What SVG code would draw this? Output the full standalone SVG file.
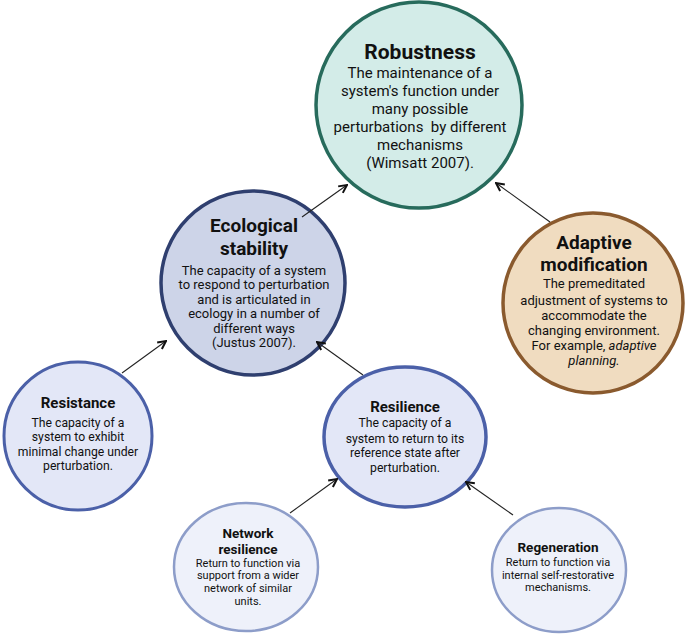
<svg xmlns="http://www.w3.org/2000/svg" width="685" height="634" viewBox="0 0 685 634">
<style>
text{font-family:Roboto,"Liberation Sans",Arial,sans-serif;text-anchor:middle;fill:#111}
.t1{font-size:21px;font-weight:bold}
.t2{font-size:19px;font-weight:bold}
.t3{font-size:15px;font-weight:bold}
.t4{font-size:13.5px;font-weight:bold}
.b1{font-size:15px}
.b2{font-size:13px}
.b2a{font-size:13px}
.b3{font-size:12.2px}
.b4{font-size:11px}
.con{stroke:#222;stroke-width:1.1;fill:none;marker-end:url(#ah)}
</style>
<defs>
<marker id="ah" viewBox="0 0 10 10" refX="9" refY="5" markerWidth="10" markerHeight="10" markerUnits="userSpaceOnUse" orient="auto">
<path d="M1,1 L9,5 L1,9" fill="none" stroke="#111" stroke-width="2"/>
</marker>
</defs>
<g id="robustness">
<circle cx="419" cy="105" r="103" fill="#d3ece8" stroke="#276b5c" stroke-width="3.5"/>
<text class="t1" x="420" y="59">Robustness</text>
<text class="b1" x="420" y="78">The maintenance of a</text>
<text class="b1" x="420" y="96">system's function under</text>
<text class="b1" x="420" y="114">many possible</text>
<text class="b1" x="420" y="132" xml:space="preserve">perturbations  by different</text>
<text class="b1" x="420" y="150">mechanisms</text>
<text class="b1" x="420" y="168">(Wimsatt 2007).</text>
</g>
<g id="ecological-stability">
<circle cx="253" cy="283" r="92" fill="#cdd4e8" stroke="#2f3f6f" stroke-width="3.5"/>
<text class="t2" x="254" y="232">Ecological</text>
<text class="t2" x="254" y="255">stability</text>
<text class="b2" x="254" y="274.5">The capacity of a system</text>
<text class="b2" x="254" y="289">to respond to perturbation</text>
<text class="b2" x="254" y="303.5">and is articulated in</text>
<text class="b2" x="254" y="318">ecology in a number of</text>
<text class="b2" x="254" y="332.5">different ways</text>
<text class="b2" x="254" y="347">(Justus 2007).</text>
</g>
<g id="adaptive-modification">
<circle cx="593" cy="303" r="90" fill="#f0dcc0" stroke="#8a5a2e" stroke-width="3.5"/>
<text class="t2" x="594" y="249">Adaptive</text>
<text class="t2" x="594" y="271">modification</text>
<text class="b2a" x="594" y="288">The premeditated</text>
<text class="b2a" x="594" y="305">adjustment of systems to</text>
<text class="b2a" x="594" y="320">accommodate the</text>
<text class="b2a" x="594" y="335">changing environment.</text>
<text class="b2a" x="594" y="350">For example, <tspan font-style="italic">adaptive</tspan></text>
<text class="b2a" x="594" y="365" font-style="italic">planning.</text>
</g>
<g id="resistance">
<circle cx="78" cy="436" r="74" fill="#e3e7f7" stroke="#4b60a8" stroke-width="3"/>
<text class="t3" x="78" y="408">Resistance</text>
<text class="b3" x="78" y="427">The capacity of a</text>
<text class="b3" x="78" y="441">system to exhibit</text>
<text class="b3" x="78" y="456">minimal change under</text>
<text class="b3" x="78" y="470">perturbation.</text>
</g>
<g id="resilience">
<ellipse cx="405" cy="437" rx="81" ry="70" fill="#e3e7f7" stroke="#4b60a8" stroke-width="3.5"/>
<text class="t3" x="405" y="412">Resilience</text>
<text class="b3" x="405" y="427">The capacity of a</text>
<text class="b3" x="405" y="443">system to return to its</text>
<text class="b3" x="405" y="457">reference state after</text>
<text class="b3" x="405" y="472">perturbation.</text>
</g>
<g id="network-resilience">
<ellipse cx="246" cy="567" rx="72" ry="64" fill="#eef1fa" stroke="#8d9dc9" stroke-width="2.5"/>
<text class="t4" x="248" y="538">Network</text>
<text class="t4" x="248" y="554">resilience</text>
<text class="b4" x="248" y="566.5">Return to function via</text>
<text class="b4" x="248" y="579">support from a wider</text>
<text class="b4" x="248" y="592">network of similar</text>
<text class="b4" x="248" y="604.5">units.</text>
</g>
<g id="regeneration">
<ellipse cx="559" cy="570" rx="67" ry="62" fill="#eef1fa" stroke="#8d9dc9" stroke-width="2.5"/>
<text class="t4" x="558" y="552">Regeneration</text>
<text class="b4" x="558" y="566">Return to function via</text>
<text class="b4" x="558" y="578.5">internal self-restorative</text>
<text class="b4" x="558" y="591">mechanisms.</text>
</g>
<g id="connectors">
<line class="con" x1="302" y1="217" x2="347" y2="185"/>
<line class="con" x1="550" y1="222" x2="496" y2="183"/>
<line class="con" x1="122" y1="373" x2="166" y2="341"/>
<line class="con" x1="363" y1="375" x2="317" y2="342"/>
<line class="con" x1="290" y1="513" x2="337" y2="479"/>
<line class="con" x1="513" y1="515" x2="466" y2="482"/>
</g>
</svg>
